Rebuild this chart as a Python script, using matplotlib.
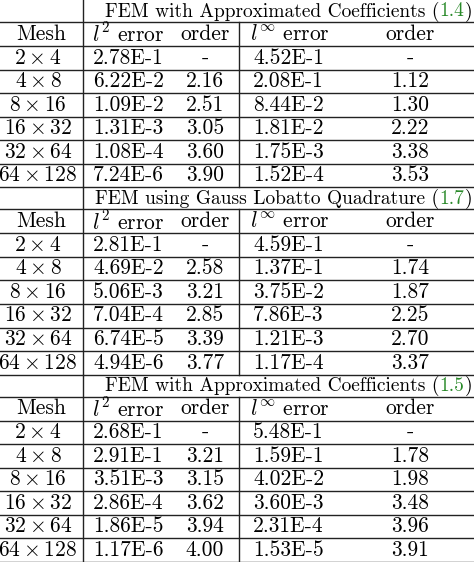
import matplotlib.pyplot as plt

plt.rcParams['font.family'] = 'cmr10'
plt.rcParams['mathtext.fontset'] = 'cm'
plt.rcParams['axes.unicode_minus'] = False

titles = ["FEM with Approximated Coefficients (", "FEM using Gauss Lobatto Quadrature (",
          "FEM with Approximated Coefficients ("]
refs = ["1.4", "1.7", "1.5"]
meshes = [r"$2\times4$", r"$4\times8$", r"$8\times16$", r"$16\times32$", r"$32\times64$", r"$64\times128$"]

l2_err = [["2.78E-1", "6.22E-2", "1.09E-2", "1.31E-3", "1.08E-4", "7.24E-6"],
          ["2.81E-1", "4.69E-2", "5.06E-3", "7.04E-4", "6.74E-5", "4.94E-6"],
          ["2.68E-1", "2.91E-1", "3.51E-3", "2.86E-4", "1.86E-5", "1.17E-6"]]
l2_ord = [["-", "2.16", "2.51", "3.05", "3.60", "3.90"],
          ["-", "2.58", "3.21", "2.85", "3.39", "3.77"],
          ["-", "3.21", "3.15", "3.62", "3.94", "4.00"]]
linf_err = [["4.52E-1", "2.08E-1", "8.44E-2", "1.81E-2", "1.75E-3", "1.52E-4"],
            ["4.59E-1", "1.37E-1", "3.75E-2", "7.86E-3", "1.21E-3", "1.17E-4"],
            ["5.48E-1", "1.59E-1", "4.02E-2", "3.60E-3", "2.31E-4", "1.53E-5"]]
linf_ord = [["-", "1.12", "1.30", "2.22", "3.38", "3.53"],
            ["-", "1.74", "1.87", "2.25", "2.70", "3.37"],
            ["-", "1.78", "1.98", "3.48", "3.96", "3.91"]]

W, H = 474, 562
fig = plt.figure(figsize=(4.74, 5.62), dpi=100)
ax = fig.add_axes([0, 0, 1, 1])
ax.set_xlim(0, W)
ax.set_ylim(H, 0)
ax.axis('off')

fs = 15.5
fs_title = 14
lw = 1.0
block_h = 187.3
title_h, head_h, row_h = 22, 24, 23.55
green = '#2a8a2a'
renderer = fig.canvas.get_renderer()

for b in range(3):
    y0 = b * block_h
    y_title = y0 + title_h
    y_head = y_title + head_h
    y_end = y_head + 6 * row_h
    # horizontal lines
    for y in [y_title, y_head] + [y_head + (i + 1) * row_h for i in range(6)]:
        ax.plot([0, W], [y, y], color='#222222', lw=lw)
    ax.plot([83, 83], [y0, y_end], color='#222222', lw=lw)
    ax.plot([239, 239], [y_title, y_end], color='#222222', lw=lw)

    # title with green reference
    yc = y0 + title_h / 2 + 0.5
    t3 = ax.text(472, yc, ")", fontsize=fs_title, ha='right', va='center')
    bb = t3.get_window_extent(renderer)
    t2 = ax.text(bb.x0, yc, refs[b], fontsize=fs_title, ha='right', va='center', color=green)
    bb = t2.get_window_extent(renderer)
    ax.text(bb.x0, yc, titles[b], fontsize=fs_title, ha='right', va='center')

    yc = y_title + head_h / 2
    ax.text(41, yc, "Mesh", fontsize=fs, ha='center', va='center')
    ax.text(92, yc, r"$l^2$ error", fontsize=fs, ha='left', va='center')
    ax.text(205, yc, "order", fontsize=fs, ha='center', va='center')
    ax.text(250, yc, r"$l^\infty$ error", fontsize=fs, ha='left', va='center')
    ax.text(410, yc, "order", fontsize=fs, ha='center', va='center')

    for i in range(6):
        yc = y_head + (i + 0.5) * row_h
        ax.text(38, yc, meshes[i], fontsize=fs, ha='center', va='center')
        ax.text(93, yc, l2_err[b][i], fontsize=fs, ha='left', va='center')
        ax.text(205, yc, l2_ord[b][i], fontsize=fs, ha='center', va='center')
        ax.text(253, yc, linf_err[b][i], fontsize=fs, ha='left', va='center')
        ax.text(410, yc, linf_ord[b][i], fontsize=fs, ha='center', va='center')

fig.savefig('out.png', dpi=100)
